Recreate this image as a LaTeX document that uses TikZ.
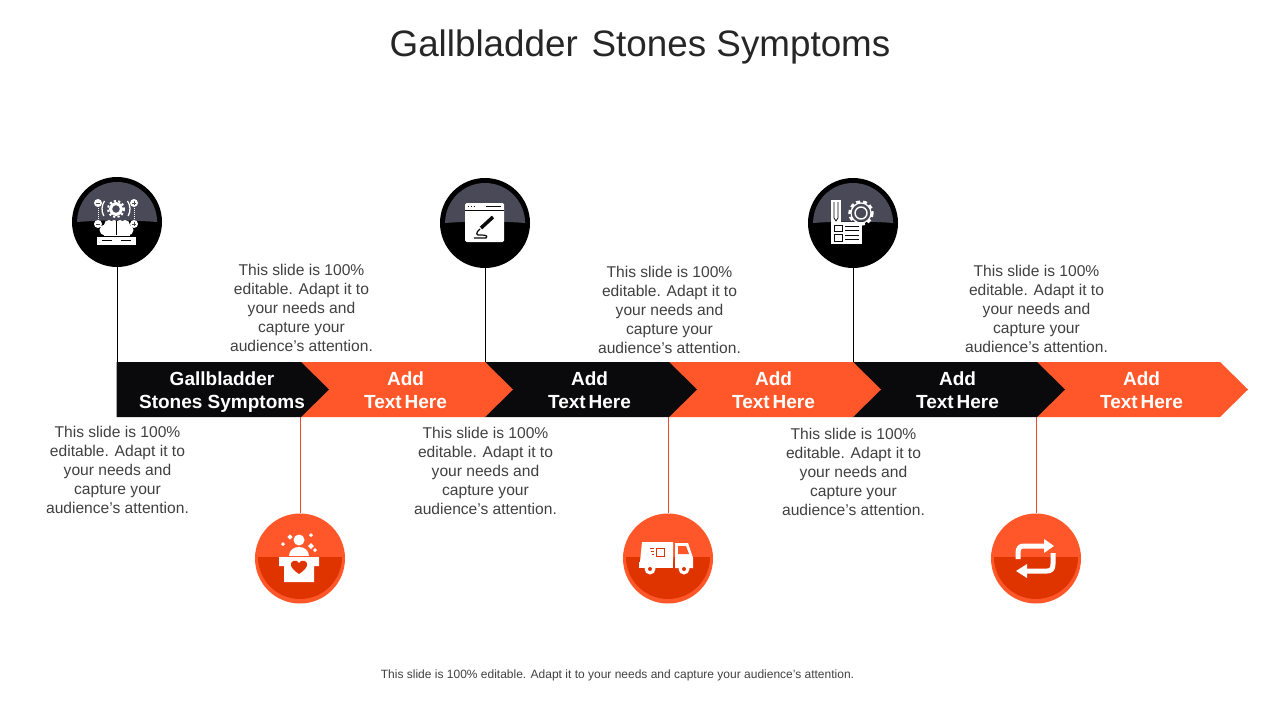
\documentclass[tikz,border=0pt]{standalone}
\usepackage{fontspec}
\setmainfont{Liberation Sans}
\definecolor{barblack}{HTML}{0A0A0C}
\definecolor{barorange}{HTML}{FF5729}
\definecolor{darktop}{HTML}{4A4957}
\definecolor{orangelow}{HTML}{DF3300}
\definecolor{bodygrey}{HTML}{404040}
\tikzset{
  bodytext/.style={align=center,text=bodygrey,font=\fontsize{15.6}{19}\selectfont,inner sep=0pt},
  barlabel/.style={align=center,text=white,font=\fontsize{19}{23}\selectfont\bfseries,inner sep=0pt},
  stemblack/.style={draw=black,line width=1pt},
  stemorange/.style={draw=barorange!90!black,line width=1pt},
  iconline/.style={draw=white,line width=1.3pt},
}
\begin{document}
\begin{tikzpicture}[x=1pt,y=-1pt]
  \useasboundingbox (0,0) rectangle (1280,720);

  \node (title) at (640,46.5) [inner sep=0pt,text=black!85,font=\fontsize{36.8}{40}\selectfont] {Gallbladder\hspace{0.1em} Stones Symptoms};

  % bar, drawn from the right so each tip lies on the next piece
  \fill[barorange] (1036,362) -- (1220,362) -- (1248,389.5) -- (1220,417) -- (1036,417) -- (1064,389.5) -- cycle;
  \foreach \xa/\col in {852/barblack,668/barorange,484/barblack,300/barorange}
    \fill[\col] (\xa,362) -- ++(185,0) -- ++(28,27.5) -- ++(-28,27.5) -- ++(-185,0) -- ++(28,-27.5) -- cycle;
  \fill[barblack] (116.5,362) -- (301,362) -- (329,389.5) -- (301,417) -- (116.5,417) -- cycle;

  \coordinate (barA) at (117,362);
  \coordinate (barB) at (300,417);
  \coordinate (barC) at (485,362);
  \coordinate (barD) at (668,417);
  \coordinate (barE) at (853,362);
  \coordinate (barF) at (1036,417);

  \node (labelA) at (222,392) [barlabel] {Gallbladder\\Stones Symptoms};
  \foreach \nm/\xa in {B/405.5,C/589.5,D/773.5,E/957.5,F/1141.5}
    \node (label\nm) at (\xa,390) [barlabel] {Add\\Text\hspace{-0.12em} Here};

  % circles
  \foreach \nm/\xa/\ya in {A/117/222,C/485/223,E/853/223} {
    \node (circ\nm) at (\xa,\ya) [circle,minimum size=90pt,inner sep=0pt,fill=black] {};
    \fill[darktop] (\xa-39.9,\ya) arc (180:360:40) .. controls (\xa+15,\ya-2) and (\xa-15,\ya-2) .. cycle;
  }
  \foreach \nm/\xa in {B/300,D/668,F/1036} {
    \node (circ\nm) at (\xa,558.5) [circle,minimum size=90pt,inner sep=0pt,fill=barorange] {};
    \fill[orangelow] (\xa-42,557) -- (\xa+42,557) arc (0:180:42) -- cycle;
  }

  \draw[stemblack] (circA) -- (barA);
  \draw[stemblack] (circC) -- (barC);
  \draw[stemblack] (circE) -- (barE);
  \draw[stemorange] (circB) -- (barB);
  \draw[stemorange] (circD) -- (barD);
  \draw[stemorange] (circF) -- (barF);

  % icon: gear and brain
  \draw[white,line width=3pt] (116,209) circle (5.5);
  \draw[white,line width=2pt,dash pattern=on 2.2pt off 2.2pt] (116,209) circle (8);
  \draw[iconline] (116,209) ++(150:14) arc (150:215:14);
  \draw[iconline] (116,209) ++(30:14) arc (30:-35:14);
  \foreach \xa/\ya in {98/203,134/203,98/224,134/224} {
    \fill[white] (\xa,\ya) circle (4);
    \draw[darktop,line width=.8pt] (\xa-2.2,\ya) -- (\xa+2.2,\ya);
  }
  \draw[darktop,line width=.8pt] (134,200.8) -- (134,205.2) (134,221.8) -- (134,226.2);
  \draw[white,line width=1pt,densely dotted] (98,208) -- (98,219);
  \draw[white,line width=1pt,densely dotted] (134,208) -- (134,219);
  \foreach \xa/\ya/\rr in {105/230/5.5,109/225/5,114/225/5,120/225/5,125/225/5,128/230/5.5,110/231/5,122/231/5}
    \fill[white] (\xa,\ya) circle (\rr);
  \fill[white] (104,226) rectangle (130,236);
  \draw[black,line width=.7pt] (116.5,221) -- (116.5,235);
  \fill[white] (97,237) -- (136,237) -- (136,245) -- (97,245) -- cycle;
  \draw[black,line width=.8pt] (102,240) -- (112,240) (121,240) -- (131,240);

  % icon: window and pen
  \fill[white,rounded corners=1.5pt] (465,203) rectangle (504,242);
  \draw[barblack,line width=.6pt] (465,210) -- (504,210);
  \draw[barblack,line width=1pt,dotted] (468,206.5) -- (476,206.5);
  \draw[barblack,line width=1pt] (486,206.5) -- (501,206.5);
  \draw[barblack,line width=3.5pt] (493,217) -- (481,228);
  \draw[barblack,line width=1.2pt] (480,229) .. controls (475,233) and (476,236) .. (481,235) .. controls (486,235) and (488,236) .. (486,238) -- (474,238);

  % icon: pencil, checklist and gear
  \fill[white] (831,200) rectangle (841,222);
  \draw[barblack,line width=.8pt] (834,202) -- (834,218) -- (836,221) -- (838,218) -- (838,202);
  \fill[white] (831,222) rectangle (862,244);
  \draw[barblack,line width=.9pt,fill=white] (834,225) rectangle (842,231);
  \draw[barblack,line width=.9pt,fill=white] (834,234) rectangle (842,241);
  \draw[barblack,line width=.9pt] (845,226) -- (859,226) (845,230) -- (859,230) (845,235) -- (859,235) (845,239) -- (859,239);
  \draw[white,line width=2.5pt,dash pattern=on 4pt off 3pt] (861,213) circle (11.5);
  \draw[white,line width=1.2pt] (861,213) circle (10);
  \draw[white,line width=1.4pt] (861,213) circle (6);

  % icon: speaker and heart
  \fill[white] (299,540) circle (5.5);
  \fill[white] (289,556) .. controls (289,544) and (309,544) .. (309,556) -- cycle;
  \fill[white] (279,557) -- (319,557) -- (319,566) -- (314,566) -- (314,582) -- (284,582) -- (284,566) -- (279,566) -- cycle;
  \fill[orangelow] (299,574) .. controls (290,568) and (289,563) .. (293,561) .. controls (296,560) and (298,561) .. (299,563) .. controls (300,561) and (302,560) .. (305,561) .. controls (309,563) and (308,568) .. (299,574) -- cycle;
  \foreach \xa/\ya/\rr in {290/537/2.6,283/544/2,311/535/2,311/546/3,315/550/2} {
    \fill[white] (\xa-\rr,\ya) -- (\xa,\ya-\rr) -- (\xa+\rr,\ya) -- (\xa,\ya+\rr) -- cycle;
  }

  % icon: truck
  \fill[white] (642,542) -- (673,542) -- (673,562) -- (640,562) -- cycle;
  \fill[white] (639,562) rectangle (673,568);
  \draw[orangelow,line width=1pt] (656,548) rectangle (664,556);
  \draw[orangelow,line width=1pt] (650,548) -- (654,548) (651,551) -- (654,551) (652,554) -- (654,554);
  \fill[white] (675,543) -- (688,543) -- (693,558) -- (693,568) -- (675,568) -- cycle;
  \fill[barorange] (678,546) -- (686,546) -- (689,554) -- (678,554) -- cycle;
  \fill[white] (650,569) circle (5.5);
  \fill[white] (684,569) circle (5.5);
  \fill[orangelow] (650,569) circle (2);
  \fill[orangelow] (684,569) circle (2);

  % icon: repeat arrows
  \draw[white,line width=5pt] (1018,559) -- (1018,553) .. controls (1018,548) and (1020,546) .. (1024,546) -- (1046,546);
  \fill[white] (1044,539) -- (1054,546) -- (1044,553) -- cycle;
  \draw[white,line width=5pt] (1053,553) -- (1053,564) .. controls (1053,569) and (1051,571) .. (1047,571) -- (1026,571);
  \fill[white] (1027,564) -- (1016,571) -- (1027,578) -- cycle;

  % texts
  \node (noteA) at (117.5,470) [bodytext] {This slide is 100\%\\editable. Adapt it to\\your needs and\\capture your\\audience's attention.};
  \node (noteB) at (301.5,308) [bodytext] {This slide is 100\%\\editable. Adapt it to\\your needs and\\capture your\\audience's attention.};
  \node (noteC) at (485.5,471) [bodytext] {This slide is 100\%\\editable. Adapt it to\\your needs and\\capture your\\audience's attention.};
  \node (noteD) at (669.5,310) [bodytext] {This slide is 100\%\\editable. Adapt it to\\your needs and\\capture your\\audience's attention.};
  \node (noteE) at (853.5,472) [bodytext] {This slide is 100\%\\editable. Adapt it to\\your needs and\\capture your\\audience's attention.};
  \node (noteF) at (1036.5,309) [bodytext] {This slide is 100\%\\editable. Adapt it to\\your needs and\\capture your\\audience's attention.};

  \node (footnote) at (617.5,675) [inner sep=0pt,text=bodygrey,font=\fontsize{12}{14}\selectfont] {This slide is 100\% editable. Adapt it to your needs and capture your audience’s attention.};
\end{tikzpicture}
\end{document}
